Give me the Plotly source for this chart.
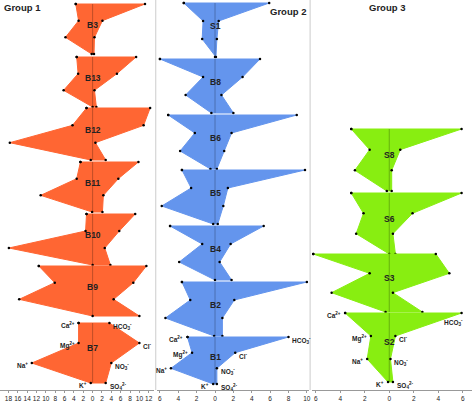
import plotly.graph_objects as go
import numpy as np

# ---- data (meq/L) : cations Ca, Mg, Na, K ; anions HCO3, Cl, NO3, SO4
g1_names = ["B3", "B13", "B12", "B11", "B10", "B9", "B7"]
g1_ca = [3.6, 3.4, 1.3, 2.6, 1.3, 11.5, 3.0]
g1_mg = [3.0, 3.1, 4.3, 3.4, 1.5, 8.1, 3.0]
g1_na = [5.8, 6.2, 17.7, 11.1, 17.9, 15.7, 13.0]
g1_k = [0.2, 0.0, 0.4, 0.1, 0.0, 0.0, 0.4]
g1_hco3 = [11.2, 9.3, 12.3, 9.8, 9.1, 11.5, 3.6]
g1_cl = [2.1, 5.2, 10.9, 5.5, 5.7, 8.7, 10.0]
g1_no3 = [0.4, 0.4, 0.6, 2.3, 2.6, 4.5, 4.0]
g1_so4 = [0.3, 0.8, 2.8, 2.1, 3.8, 10.0, 2.8]

g2_names = ["S1", "B8", "B6", "B5", "B4", "B2", "B1"]
g2_ca = [3.4, 6.0, 5.1, 3.6, 4.9, 3.6, 3.0]
g2_mg = [1.3, 1.3, 2.2, 2.6, 1.4, 2.7, 2.5]
g2_na = [1.4, 3.2, 3.8, 5.8, 3.9, 5.4, 4.8]
g2_k = [0.0, 0.4, 0.5, 0.2, 0.0, 0.1, 0.2]
g2_hco3 = [5.9, 4.9, 8.9, 9.8, 5.3, 10.0, 8.0]
g2_cl = [0.4, 3.0, 1.8, 1.4, 1.7, 2.1, 2.2]
g2_no3 = [0.2, 0.7, 1.0, 0.9, 0.5, 0.8, 0.2]
g2_so4 = [0.1, 2.0, 0.2, 0.3, 1.8, 0.8, 0.2]

g3_names = ["S8", "S6", "S3", "S2"]
g3_ca = [3.1, 3.1, 6.2, 3.6]
g3_mg = [1.6, 2.1, 1.6, 1.5]
g3_na = [2.8, 2.7, 4.7, 1.8]
g3_k = [0.2, 0.0, 0.3, 0.1]
g3_hco3 = [5.9, 5.9, 3.8, 5.9]
g3_cl = [0.9, 1.9, 4.9, 0.5]
g3_no3 = [0.2, 0.3, 0.3, 0.1]
g3_so4 = [0.2, 0.5, 2.7, 0.3]

g1_ticks = [18, 16, 14, 12, 10, 8, 6, 4, 2, 0, 2, 4, 6, 8, 10, 12]
g2_ticks = [6, 4, 2, 0, 2, 4, 6, 8, 10]
g3_ticks = [6, 4, 2, 0, 2, 4, 6]

# ---- layout (vertical placement of each diagram, in px from top)
g1_top = [4, 57, 108, 162, 214, 266, 323]
g1_bot = [54, 107, 160, 212, 265, 316, 383]
g2_top = [3, 59, 115, 170, 226, 282, 337]
g2_bot = [57, 113, 169, 224, 280, 336, 384]
g3_top = [129, 193, 254, 313]
g3_bot = [191, 254, 312, 382]

groups = [
    dict(names=g1_names, ca=g1_ca, mg=g1_mg, na=g1_na, k=g1_k, hco3=g1_hco3, cl=g1_cl,
         no3=g1_no3, so4=g1_so4, top=g1_top, bot=g1_bot, ticks=g1_ticks,
         color="#FF6633", rng=[-19.8, 13.2], dom=[0.0, 0.327], title="Group 1"),
    dict(names=g2_names, ca=g2_ca, mg=g2_mg, na=g2_na, k=g2_k, hco3=g2_hco3, cl=g2_cl,
         no3=g2_no3, so4=g2_so4, top=g2_top, bot=g2_bot, ticks=g2_ticks,
         color="#6495ED", rng=[-6.3, 10.2], dom=[0.333, 0.654], title="Group 2"),
    dict(names=g3_names, ca=g3_ca, mg=g3_mg, na=g3_na, k=g3_k, hco3=g3_hco3, cl=g3_cl,
         no3=g3_no3, so4=g3_so4, top=g3_top, bot=g3_bot, ticks=g3_ticks,
         color="#88EE11", rng=[-6.34, 6.75], dom=[0.66, 1.0], title="Group 3"),
]

fig = go.Figure()
ann = []
shapes = []
for gi, g in enumerate(groups):
    xa = "x" if gi == 0 else f"x{gi+1}"
    ya = "y" if gi == 0 else f"y{gi+1}"
    n = len(g["names"])
    for i in range(n):
        rows = np.linspace(g["top"][i], g["bot"][i], 4)
        xs = [-g["ca"][i], -g["mg"][i], -g["na"][i], -g["k"][i],
              g["so4"][i], g["no3"][i], g["cl"][i], g["hco3"][i], -g["ca"][i]]
        ys = [rows[0], rows[1], rows[2], rows[3], rows[3], rows[2], rows[1], rows[0], rows[0]]
        fig.add_trace(go.Scatter(x=xs, y=ys, xaxis=xa, yaxis=ya, mode="lines+markers",
                                 fill="toself", fillcolor=g["color"],
                                 line=dict(color=g["color"], width=1),
                                 marker=dict(color="black", size=2.5),
                                 showlegend=False, hoverinfo="skip"))
        fig.add_trace(go.Scatter(x=[0, 0], y=[rows[0], rows[3]], xaxis=xa, yaxis=ya,
                                 mode="lines", line=dict(color="rgba(0,0,0,0.25)", width=1),
                                 showlegend=False, hoverinfo="skip"))
        ann.append(dict(x=0, y=rows[0] + (rows[3] - rows[0]) * 0.42, xref=xa, yref=ya,
                        text=f"<b>{g['names'][i]}</b>", showarrow=False,
                        font=dict(size=8.5, color="#222")))
        if i == n - 1:
            left = [("Ca<sup>2+</sup>", g["ca"][i], rows[0]), ("Mg<sup>2+</sup>", g["mg"][i], rows[1]),
                    ("Na<sup>+</sup>", g["na"][i], rows[2]), ("K<sup>+</sup>", g["k"][i], rows[3])]
            right = [("HCO<sub>3</sub><sup>-</sup>", g["hco3"][i], rows[0]), ("Cl<sup>-</sup>", g["cl"][i], rows[1]),
                     ("NO<sub>3</sub><sup>-</sup>", g["no3"][i], rows[2]), ("SO<sub>4</sub><sup>2-</sup>", g["so4"][i], rows[3])]
            for t, v, yy in left:
                ann.append(dict(x=-v, y=yy + 2, xref=xa, yref=ya, text=f"<b>{t}</b>", showarrow=False,
                                xanchor="right", xshift=-2, font=dict(size=6.5, color="#222")))
            for j, (t, v, yy) in enumerate(right):
                if gi == 2 and j == 0:
                    ann.append(dict(x=v, y=yy + 9, xref=xa, yref=ya, text=f"<b>{t}</b>", showarrow=False,
                                    xanchor="right", xshift=3, font=dict(size=6.5, color="#222")))
                else:
                    ann.append(dict(x=v, y=yy + 3, xref=xa, yref=ya, text=f"<b>{t}</b>", showarrow=False,
                                    xanchor="left", xshift=2, font=dict(size=6.5, color="#222")))
    tv = [-t for t in g["ticks"][:g["ticks"].index(0)]] + g["ticks"][g["ticks"].index(0):]
    ax = dict(domain=g["dom"], range=g["rng"], tickvals=tv, ticktext=[str(t) for t in g["ticks"]],
              showgrid=False, zeroline=False, showline=True, linecolor="#999", ticks="outside",
              ticklen=2, tickcolor="#999", tickangle=0,
              tickfont=dict(size=6.5, color="#222", family="Arial"), fixedrange=True)
    yax = dict(domain=[0, 1], range=[390, 0], visible=False, anchor=xa, fixedrange=True)
    if gi == 0:
        fig.update_layout(xaxis=ax, yaxis=yax)
    else:
        ax["anchor"] = ya
        fig.update_layout(**{f"xaxis{gi+1}": ax, f"yaxis{gi+1}": yax})

ann.append(dict(x=0.005, y=1.0, xref="paper", yref="paper", text="<b>Group 1</b>", showarrow=False,
                xanchor="left", yanchor="top", font=dict(size=9.5, color="#222")))
ann.append(dict(x=0.652, y=0.99, xref="paper", yref="paper", text="<b>Group 2</b>", showarrow=False,
                xanchor="right", yanchor="top", font=dict(size=9.5, color="#222")))
ann.append(dict(x=0.82, y=1.0, xref="paper", yref="paper", text="<b>Group 3</b>", showarrow=False,
                xanchor="center", yanchor="top", font=dict(size=9.5, color="#222")))
for xp in [0.330, 0.657]:
    shapes.append(dict(type="line", xref="paper", yref="paper", x0=xp, x1=xp, y0=0, y1=1,
                       line=dict(color="#ccc", width=1)))

fig.update_layout(width=474, height=402, margin=dict(l=0, r=0, t=0, b=12),
                  plot_bgcolor="white", paper_bgcolor="white", annotations=ann, shapes=shapes,
                  font=dict(family="Arial"))
fig.write_html("out.html", config={"displayModeBar": False},
               post_script="document.body.style.margin='0';document.body.style.overflow='hidden';")
